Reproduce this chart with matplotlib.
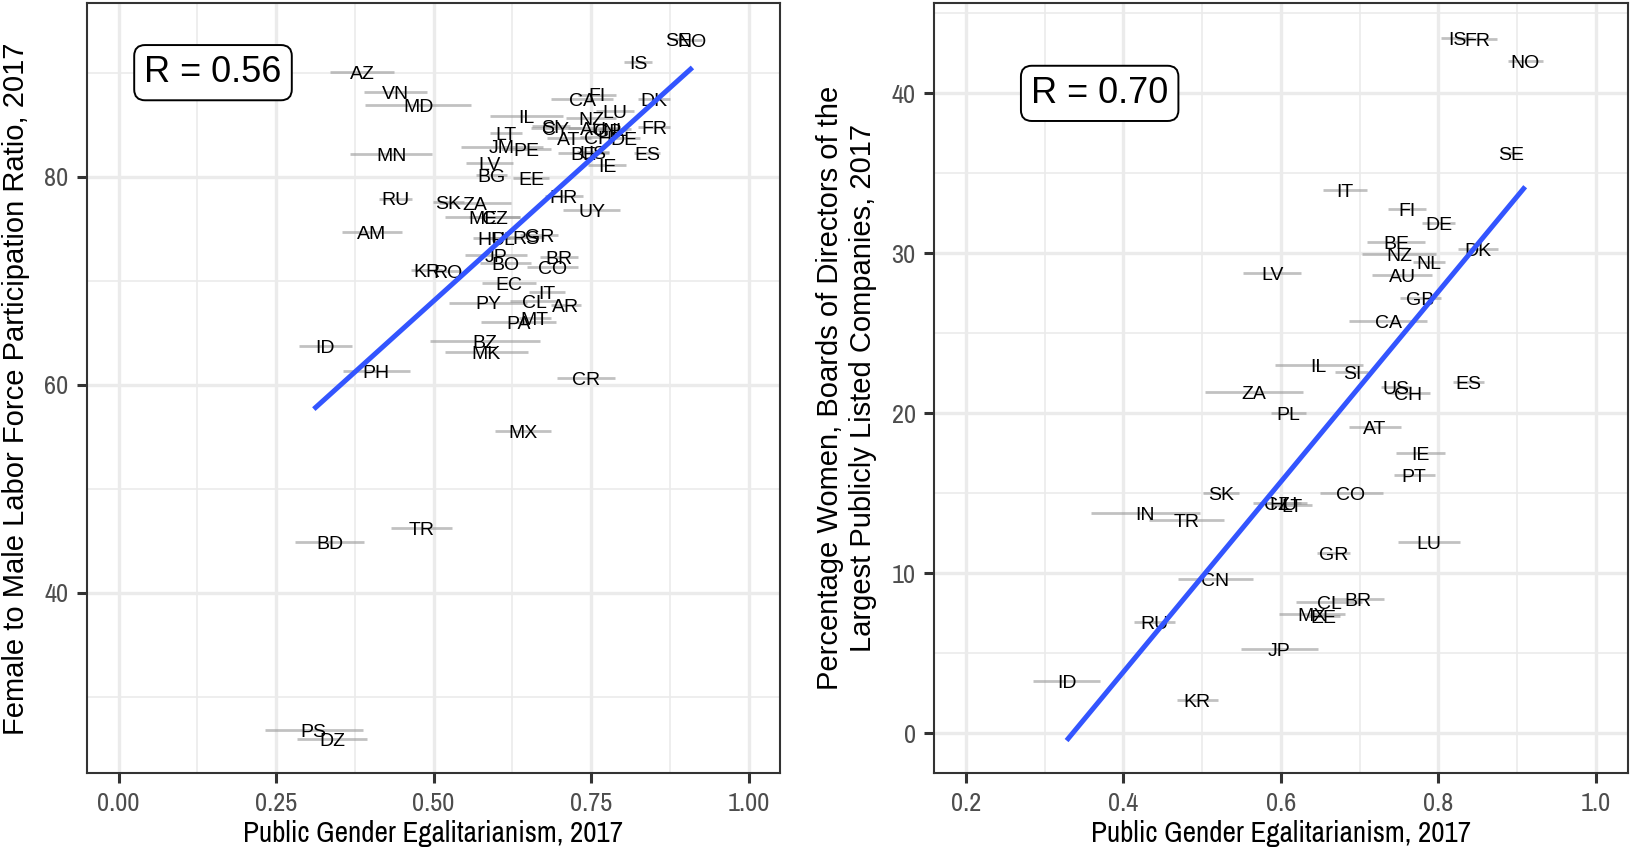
import matplotlib
matplotlib.use('Agg')
import matplotlib.pyplot as plt
import numpy as np
from matplotlib.ticker import MultipleLocator, FormatStrFormatter
from matplotlib import font_manager
from matplotlib.font_manager import FontProperties

# ---------------- data: left panel ----------------
left_codes = ["AZ", "VN", "MD", "MN", "RU", "AM", "KR", "RO", "SK", "ZA", "ME", "CZ",
              "HU", "PL", "RS", "GR", "JP", "BO", "BR", "CO", "EC", "IT", "PY", "CL",
              "AR", "MT", "PA", "BZ", "MK", "ID", "PH", "CR", "MX", "TR", "BD", "PS",
              "DZ", "HR", "UY", "EE", "BG", "LV", "JM", "PE", "LT", "IL", "CY", "SI",
              "CA", "FI", "LU", "NZ", "AU", "NL", "GB", "CH", "DE", "AT", "BE", "US",
              "IE", "ES", "FR", "DK", "IS", "SE", "NO"]
left_x = [0.387, 0.440, 0.476, 0.433, 0.440, 0.402, 0.489, 0.523, 0.524, 0.566, 0.578, 0.597,
          0.592, 0.611, 0.646, 0.668, 0.599, 0.614, 0.699, 0.689, 0.620, 0.680, 0.587, 0.661,
          0.710, 0.661, 0.635, 0.582, 0.584, 0.328, 0.409, 0.742, 0.642, 0.481, 0.335, 0.310,
          0.339, 0.707, 0.751, 0.655, 0.592, 0.589, 0.609, 0.647, 0.615, 0.648, 0.694, 0.686,
          0.736, 0.760, 0.788, 0.750, 0.754, 0.788, 0.777, 0.762, 0.802, 0.715, 0.738, 0.753,
          0.776, 0.839, 0.850, 0.850, 0.825, 0.888, 0.911]
left_y = [90.1, 88.1, 86.9, 82.2, 77.9, 74.65, 71.0, 70.96, 77.6, 77.44, 76.15, 76.15,
          74.1, 74.1, 74.2, 74.4, 72.5, 71.7, 72.3, 71.35, 69.75, 68.94, 67.9, 68.0,
          67.66, 66.4, 66.0, 64.2, 63.1, 63.7, 61.3, 60.6, 55.5, 46.2, 44.9, 26.8,
          25.95, 78.1, 76.8, 79.85, 80.2, 81.3, 82.9, 82.7, 84.2, 85.8, 84.7, 84.9,
          87.5, 87.9, 86.35, 85.6, 84.65, 84.55, 84.5, 83.85, 83.7, 83.7, 82.25, 82.4,
          81.1, 82.3, 84.8, 87.5, 91.0, 93.2, 93.1]
left_err = [0.051, 0.050, 0.084, 0.065, 0.026, 0.048, 0.025, 0.020, 0.025, 0.057, 0.060, 0.040,
            0.030, 0.030, 0.030, 0.030, 0.049, 0.040, 0.030, 0.040, 0.043, 0.028, 0.062, 0.040,
            0.024, 0.025, 0.059, 0.087, 0.066, 0.042, 0.053, 0.046, 0.044, 0.049, 0.055, 0.078,
            0.056, 0.030, 0.045, 0.029, 0.025, 0.037, 0.065, 0.040, 0.025, 0.058, 0.040, 0.030,
            0.049, 0.030, 0.030, 0.040, 0.040, 0.025, 0.030, 0.030, 0.025, 0.035, 0.040, 0.025,
            0.030, 0.020, 0.025, 0.025, 0.022, 0.010, 0.015]

# ---------------- data: right panel ----------------
right_codes = ["IS", "FR", "NO", "SE", "IT", "FI", "DE", "BE", "NZ", "DK", "NL", "LV", "AU",
               "GB", "CA", "IL", "SI", "ZA", "US", "CH", "ES", "PL", "AT", "IE", "PT", "SK",
               "CO", "CZ", "HU", "LT", "IN", "TR", "LU", "GR", "CN", "BR", "CL", "MX", "EE",
               "RU", "JP", "ID", "KR"]
right_x = [0.8235, 0.849, 0.910, 0.892, 0.681, 0.760, 0.800, 0.746, 0.750, 0.850, 0.788, 0.589, 0.754,
           0.777, 0.736, 0.648, 0.690, 0.566, 0.746, 0.762, 0.838, 0.610, 0.719, 0.777, 0.769, 0.524,
           0.689, 0.595, 0.603, 0.614, 0.428, 0.480, 0.788, 0.667, 0.517, 0.698, 0.661, 0.639, 0.654,
           0.440, 0.598, 0.328, 0.494]
right_y = [43.44, 43.37, 42.04, 36.25, 33.96, 32.77, 31.87, 30.73, 29.96, 30.25, 29.48, 28.75, 28.64,
           27.19, 25.77, 23.02, 22.56, 21.35, 21.66, 21.25, 21.98, 20.04, 19.16, 17.54, 16.14, 15.04,
           15.04, 14.41, 14.41, 14.27, 13.75, 13.33, 11.98, 11.25, 9.64, 8.39, 8.19, 7.46, 7.33,
           6.98, 5.27, 3.27, 2.08]
right_err = [0.020, 0.025, 0.022, 0.010, 0.028, 0.024, 0.021, 0.037, 0.047, 0.025, 0.020, 0.037, 0.038,
             0.026, 0.050, 0.056, 0.021, 0.062, 0.019, 0.027, 0.020, 0.022, 0.033, 0.031, 0.026, 0.023,
             0.040, 0.030, 0.030, 0.025, 0.069, 0.048, 0.039, 0.021, 0.047, 0.033, 0.042, 0.042, 0.021,
             0.026, 0.049, 0.042, 0.026]

left_r_text = "R = 0.56"
right_r_text = "R = 0.70"
x_title = "Public Gender Egalitarianism, 2017"
left_y_title = "Female to Male Labor Force Participation Ratio, 2017"
right_y_title = "Percentage Women, Boards of Directors of the\nLargest Publicly Listed Companies, 2017"

plt.rcParams['font.family'] = ['Liberation Sans', 'DejaVu Sans']


def find_narrow():
    """Look for an installed condensed sans face (regular weight)."""
    cands = []
    for f in font_manager.fontManager.ttflist:
        name = f.name
        fn = f.fname.lower()
        if f.style != 'normal':
            continue
        w = f.weight if isinstance(f.weight, int) else 400
        if w not in (400, 'normal', 'regular'):
            continue
        rank = None
        if name == 'Liberation Sans Narrow':
            rank = 0
        elif 'Narrow' in name or 'narrow' in fn:
            rank = 1
        elif name in ('Roboto Condensed',) or ('roboto' in fn and 'condensed' in fn):
            rank = 2
        elif ('notosans' in fn.replace('-', '').replace('_', '') and 'condensed' in fn
              and 'semi' not in fn and 'extra' not in fn and 'cjk' not in fn):
            rank = 3
        if rank is not None:
            cands.append((rank, f.fname))
    if cands:
        cands.sort()
        return cands[0][1]
    return None


_narrow_path = find_narrow()
if _narrow_path:
    TICK_FP = FontProperties(fname=_narrow_path, size=19)
    XT_FP = FontProperties(fname=_narrow_path, size=21)
else:
    TICK_FP = FontProperties(family=['Liberation Sans', 'DejaVu Sans'], size=17)
    XT_FP = FontProperties(family=['Liberation Sans', 'DejaVu Sans'], size=18)

W, H = 1630, 857
fig = plt.figure(figsize=(W / 100, H / 100), dpi=100)
ax1 = fig.add_axes([87 / W, 1 - 773.3 / H, 693 / W, 770 / H])
ax2 = fig.add_axes([934.2 / W, 1 - 773.3 / H, 693.4 / W, 770 / H])

LINE_BLUE = '#3355FF'


def style(ax):
    for s in ax.spines.values():
        s.set_color('#333333')
        s.set_linewidth(1.5)
    ax.grid(which='major', color='#EBEBEB', lw=2.4)
    ax.grid(which='minor', color='#EBEBEB', lw=1.2)
    ax.set_axisbelow(True)
    ax.tick_params(which='major', length=7.2, width=2.2, color='#333333',
                   labelcolor='#4D4D4D', pad=6)
    ax.tick_params(which='minor', length=0)
    for lab in ax.get_xticklabels() + ax.get_yticklabels():
        lab.set_fontproperties(TICK_FP)


def draw(ax, codes, xs, ys, errs):
    xs = np.asarray(xs)
    ys = np.asarray(ys)
    errs = np.asarray(errs)
    ax.hlines(ys, xs - errs, xs + errs, colors='#999999', alpha=0.6, lw=2.0, zorder=2)
    for c, x, y in zip(codes, xs, ys):
        ax.annotate(c, (x, y), xytext=(0, -5.0), textcoords='offset points',
                    ha='center', va='baseline', fontsize=14, color='black', zorder=3)
    fit = np.polyfit(xs, ys, 1)
    xl = np.array([xs.min(), xs.max()])
    ax.plot(xl, np.polyval(fit, xl), color=LINE_BLUE, lw=3.6, zorder=5,
            solid_capstyle='butt')


# left panel
draw(ax1, left_codes, left_x, left_y, left_err)
ax1.set_xlim(-0.05, 1.05)
ax1.set_ylim(22.63, 96.67)
ax1.xaxis.set_major_locator(MultipleLocator(0.25))
ax1.xaxis.set_minor_locator(MultipleLocator(0.125))
ax1.xaxis.set_major_formatter(FormatStrFormatter('%.2f'))
ax1.yaxis.set_major_locator(MultipleLocator(20))
ax1.yaxis.set_minor_locator(MultipleLocator(10))
style(ax1)
ax1.text(0.15, 90, left_r_text, ha='center', va='center', fontsize=26, zorder=6,
         bbox=dict(boxstyle='round,pad=0.28,rounding_size=0.3', fc='white', ec='black', lw=1.4))
ax1.text(0.5, -0.0788, x_title, transform=ax1.transAxes, ha='center', va='center',
         fontproperties=XT_FP)
ax1.text(-0.1025, 0.5, left_y_title, transform=ax1.transAxes, ha='center', va='center',
         rotation=90, fontsize=21)

# right panel
draw(ax2, right_codes, right_x, right_y, right_err)
ax2.set_xlim(0.16, 1.04)
ax2.set_ylim(-2.5, 45.63)
ax2.xaxis.set_major_locator(MultipleLocator(0.2))
ax2.xaxis.set_minor_locator(MultipleLocator(0.1))
ax2.xaxis.set_major_formatter(FormatStrFormatter('%.1f'))
ax2.yaxis.set_major_locator(MultipleLocator(10))
ax2.yaxis.set_minor_locator(MultipleLocator(5))
style(ax2)
ax2.text(0.37, 40, right_r_text, ha='center', va='center', fontsize=26, zorder=6,
         bbox=dict(boxstyle='round,pad=0.28,rounding_size=0.3', fc='white', ec='black', lw=1.4))
ax2.text(0.5, -0.0788, x_title, transform=ax2.transAxes, ha='center', va='center',
         fontproperties=XT_FP)
ax2.text(-0.1266, 0.5, right_y_title, transform=ax2.transAxes, ha='center', va='center',
         rotation=90, fontsize=21, linespacing=1.2)

fig.savefig('out.png', dpi=100)
